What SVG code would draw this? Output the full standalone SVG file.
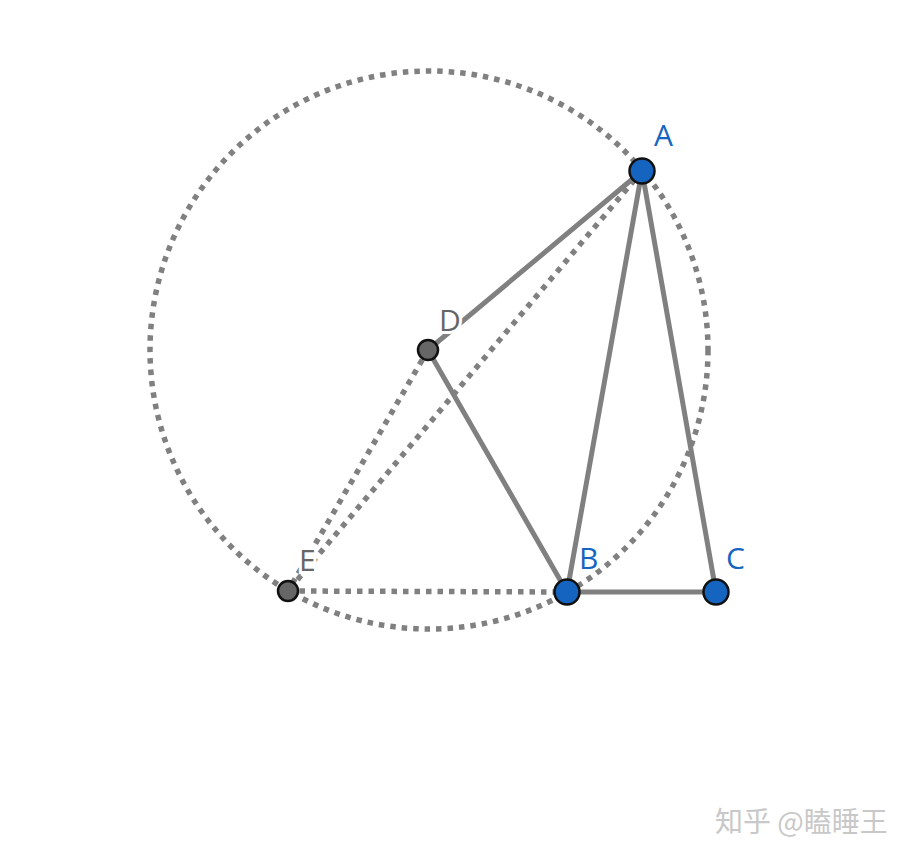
<svg xmlns="http://www.w3.org/2000/svg" width="908" height="857" viewBox="0 0 908 857">
<style>
.solid{stroke:#808080;stroke-width:5;fill:none;stroke-linecap:round}
.dot{stroke:#808080;stroke-width:5.5;fill:none;stroke-dasharray:5.5 6}
.pb{fill:#1565C0;stroke:#111;stroke-width:2.5}
.pg{fill:#666;stroke:#111;stroke-width:2.5}
.lb{font-family:"Open Sans","Noto Sans",sans-serif;font-size:30px;fill:#1565C0}
.lg{font-family:"Open Sans","Noto Sans",sans-serif;font-size:30px;fill:#666;stroke:#fff;stroke-width:6;paint-order:stroke}
.wm{font-family:"Noto Sans CJK SC",sans-serif;font-size:28px;fill:#c8c8c8}
</style>
<rect width="908" height="857" fill="#fff"/>
<g id="connectors">
<circle class="dot" cx="429" cy="350" r="279"/>
<line class="dot" x1="642" y1="171" x2="288" y2="591"/>
<line class="dot" x1="428" y1="350" x2="288" y2="591"/>
<line class="dot" x1="288" y1="591" x2="567" y2="592"/>
<line class="solid" x1="642" y1="171" x2="428" y2="350"/>
<line class="solid" x1="428" y1="350" x2="567" y2="592"/>
<line class="solid" x1="642" y1="171" x2="567" y2="592"/>
<line class="solid" x1="642" y1="171" x2="716" y2="592"/>
<line class="solid" x1="567" y1="592" x2="716" y2="592"/>
</g>
<g id="D"><text class="lg" x="439" y="331">D</text><circle class="pg" cx="428" cy="350" r="10"/></g>
<g id="E"><text class="lg" x="299" y="571">E</text><circle class="pg" cx="288" cy="591" r="10"/></g>
<g id="A"><circle class="pb" cx="642" cy="171" r="12.5"/><text class="lb" x="654" y="146">A</text></g>
<g id="B"><circle class="pb" cx="567" cy="592" r="12.5"/><text class="lb" x="579" y="569">B</text></g>
<g id="C"><circle class="pb" cx="716" cy="592" r="12.5"/><text class="lb" x="726" y="569">C</text></g>
<text class="wm" x="715" y="832">知乎 @瞌睡王</text>
</svg>
